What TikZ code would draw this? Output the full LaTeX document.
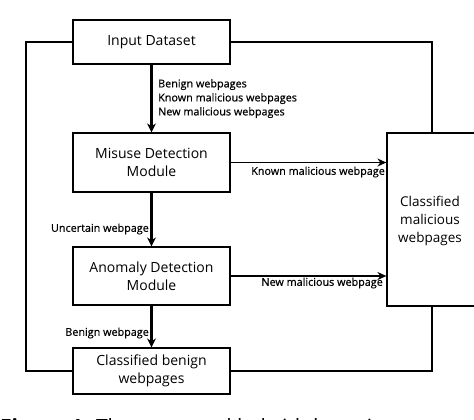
\documentclass[tikz,border=0pt]{standalone}
\usepackage{fontspec}
\setmainfont{Open Sans}
\newfontfamily\labfont[FakeBold=0.6]{Open Sans}
\usetikzlibrary{arrows.meta}
\begin{document}
\begin{tikzpicture}[x=1pt,y=-1pt,
  box/.style={draw, line width=1.2pt, align=center, inner sep=0pt,
    font=\fontsize{14}{18}\selectfont},
  lab/.style={inner sep=0pt, align=left, font=\labfont\fontsize{10.8}{14}\selectfont},
  varrow/.style={line width=2.4pt, -{Stealth[length=9pt,width=9pt]}},
  harrow/.style={line width=1.6pt, -{Stealth[length=9pt,width=8pt]}},
  loop/.style={line width=1.5pt}]
\useasboundingbox (0,0) rectangle (474,420);
\node[box, minimum width=157, minimum height=44] (in) at (151.5,42) {Input Dataset};
\node[box, minimum width=157, minimum height=59] (mis) at (151.5,162.5) {Misuse Detection\\Module};
\node[box, minimum width=157, minimum height=58] (ano) at (151.5,276) {Anomaly Detection\\Module};
\node[box, minimum width=157, minimum height=46] (ben) at (151.5,371) {Classified benign\\webpages};
\node[box, minimum width=90, minimum height=173] (mal) at (432,219.5) {};
\node[font=\fontsize{13.5}{18}\selectfont, align=center, inner sep=0pt] (maltext) at (430,221) {Classified\\malicious\\webpages};
% loop
\draw[loop] (in.west) -| (26,371) -- (ben.west);
\draw[loop] (in.east) -| (mal.north);
\draw[loop] (mal.south) |- (ben.east);
% vertical arrows
\draw[varrow] (in) -- (mis);
\draw[varrow] (mis) -- (ano);
\draw[varrow] (ano) -- (ben);
% horizontal arrows
\draw[harrow] (mis.east) -- (mis.east -| mal.west);
\draw[harrow] (ano.east) -- (ano.east -| mal.west);
% labels
\node[lab, anchor=north west] (l1) at (158,79) {Benign webpages\\Known malicious webpages\\New malicious webpages};
\node[lab, anchor=east] (l2) at (149,229) {Uncertain webpage};
\node[lab, anchor=east] (l3) at (149,333) {Benign webpage};
\node[lab, anchor=east] (l4) at (385,172) {Known malicious webpage};
\node[lab, anchor=east] (l5) at (383,283) {New malicious webpage};
% caption (cut off at the bottom edge, as in the reference)
\node[anchor=base west, inner sep=0pt, font=\fontsize{21}{24}\selectfont] (cap) at (0,434) {\textbf{Figure 1.} The proposed hybrid detection system};
\end{tikzpicture}
\end{document}
